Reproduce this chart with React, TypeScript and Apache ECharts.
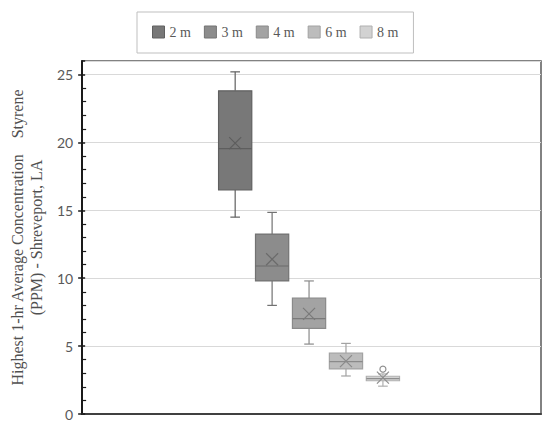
import React, { useEffect, useRef } from "react";
import * as echarts from "echarts";

const categories = ["Styrene"];
const sizes = ["2 m", "3 m", "4 m", "6 m", "8 m"];
const minValues = [14.5, 8.0, 5.15, 2.8, 2.05];
const q1Values = [16.5, 9.8, 6.3, 3.32, 2.45];
const medianValues = [19.55, 10.9, 7.03, 3.86, 2.6];
const q3Values = [23.8, 13.25, 8.53, 4.48, 2.78];
const maxValues = [25.2, 14.85, 9.8, 5.2, 2.95];
const meanValues = [19.95, 11.4, 7.37, 3.9, 2.68];
const outlierValues: number[][] = [[], [], [], [], [3.3]];
const yMin = 0;
const yMax = 26;
const yInterval = 5;

const fillColors = ["#787878", "#8c8c8c", "#a3a3a3", "#bcbcbc", "#d2d2d2"];
const borderColors = ["#606060", "#727272", "#8a8a8a", "#a2a2a2", "#b0b0b0"];
const markColors = ["#5e5e5e", "#6a6a6a", "#7a7a7a", "#8a8a8a", "#8e8e8e"];

export default function App() {
  const ref = useRef<HTMLDivElement>(null);
  useEffect(() => {
    if (!ref.current) return;
    const chart = echarts.init(ref.current, null, { renderer: "svg" });
    const series = sizes.map((name, i) => ({
      type: "custom",
      name,
      itemStyle: { color: fillColors[i], borderColor: borderColors[i] },
      encode: { x: 0, y: [1, 2, 3, 4, 5, 6] },
      data: [[0, minValues[i], q1Values[i], medianValues[i], q3Values[i], maxValues[i], meanValues[i]]],
      renderItem: (params: any, api: any) => {
        const idx = params.seriesIndex;
        const band = api.size([1, 0])[0];
        const cx = api.coord([api.value(0), 0])[0] + (idx - 2) * band * 0.0805 - band * 0.0055;
        const hw = band * 0.0362;
        const cw = band * 0.0105;
        const y = (v: number) => api.coord([api.value(0), v])[1];
        const yLo = y(api.value(1));
        const yQ1 = y(api.value(2));
        const yMed = y(api.value(3));
        const yQ3 = y(api.value(4));
        const yHi = y(api.value(5));
        const yMean = y(api.value(6));
        const stroke = { stroke: borderColors[idx], lineWidth: 1.2 };
        const m = 6;
        const children: any[] = [
          { type: "line", shape: { x1: cx, y1: yHi, x2: cx, y2: yQ3 }, style: stroke },
          { type: "line", shape: { x1: cx, y1: yQ1, x2: cx, y2: yLo }, style: stroke },
          { type: "line", shape: { x1: cx - cw, y1: yHi, x2: cx + cw, y2: yHi }, style: stroke },
          { type: "line", shape: { x1: cx - cw, y1: yLo, x2: cx + cw, y2: yLo }, style: stroke },
          {
            type: "rect",
            shape: { x: cx - hw, y: yQ3, width: hw * 2, height: yQ1 - yQ3 },
            style: { fill: fillColors[idx], stroke: borderColors[idx], lineWidth: 1.2 },
          },
          { type: "line", shape: { x1: cx - hw, y1: yMed, x2: cx + hw, y2: yMed }, style: { stroke: markColors[idx], lineWidth: 1.2 } },
          { type: "line", shape: { x1: cx - m, y1: yMean - m, x2: cx + m, y2: yMean + m }, style: { stroke: markColors[idx], lineWidth: 1.2 } },
          { type: "line", shape: { x1: cx - m, y1: yMean + m, x2: cx + m, y2: yMean - m }, style: { stroke: markColors[idx], lineWidth: 1.2 } },
        ];
        outlierValues[idx].forEach((v) => {
          children.push({
            type: "circle",
            shape: { cx, cy: y(v), r: 3 },
            style: { fill: "#ffffff", stroke: markColors[idx], lineWidth: 1.2 },
          });
        });
        return { type: "group", children };
      },
    }));

    chart.setOption({
      animation: false,
      backgroundColor: "#ffffff",
      legend: {
        left: 137,
        top: 12,
        padding: [13, 15, 14, 15],
        itemWidth: 12,
        itemHeight: 12,
        itemGap: 13,
        borderColor: "#bfbfbf",
        borderWidth: 1,
        textStyle: { fontFamily: "Liberation Serif", fontSize: 14, color: "#595959" },
        data: sizes.map((s, i) => ({
          name: s,
          icon: "rect",
          itemStyle: { color: fillColors[i], borderColor: borderColors[i], borderWidth: 1 },
        })),
      },
      grid: {
        left: 78,
        right: 9,
        top: 61,
        bottom: 11,
        show: true,
        borderColor: "#5a5a5a",
        borderWidth: 1.5,
      },
      xAxis: {
        type: "category",
        data: categories,
        axisLabel: { show: false },
        axisTick: { show: false },
        axisLine: { show: true, lineStyle: { color: "#404040", width: 2 } },
        splitLine: { show: false },
      },
      yAxis: [
        {
          type: "value",
          min: yMin,
          max: yMax,
          interval: yInterval,
          name: "Highest 1-hr Average Concentration\u00a0\u00a0\u00a0\u00a0Styrene\n(PPM) - Shreveport, LA",
          nameLocation: "middle",
          nameGap: 33,
          nameTextStyle: { fontFamily: "Liberation Serif", fontSize: 16, color: "#505050", lineHeight: 19 },
          axisLine: { show: true, lineStyle: { color: "#1a1a1a", width: 2 } },
          axisTick: { show: true, length: 4, lineStyle: { color: "#1a1a1a", width: 1.5 } },
          axisLabel: { fontFamily: "Lato", fontSize: 14, color: "#595959", margin: 9, showMaxLabel: false },
          splitLine: { show: true, lineStyle: { color: "#d9d9d9", width: 1 } },
        },
        {
          type: "value",
          position: "left",
          min: yMin,
          max: yMax,
          interval: yInterval,
          axisLine: { show: false },
          axisLabel: { show: false },
          splitLine: { show: false },
          axisTick: { show: true, inside: true, length: 3, lineStyle: { color: "#1a1a1a", width: 1.5 } },
          minorTick: { show: true, splitNumber: 5, length: 4, lineStyle: { color: "#1a1a1a", width: 1.2 } },
        },
      ],
      series,
    });
    return () => chart.dispose();
  }, []);
  return <div ref={ref} style={{ position: "absolute", left: 0, top: 0, width: 550, height: 425 }} />;
}
